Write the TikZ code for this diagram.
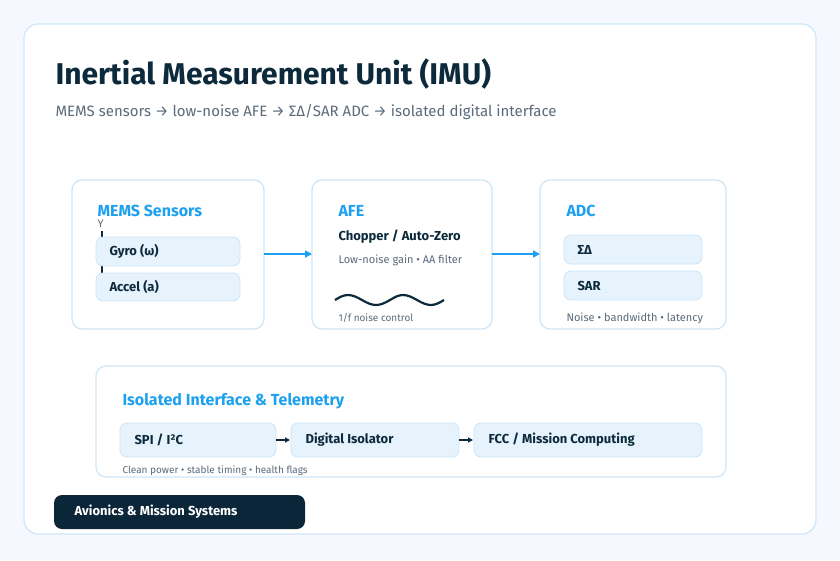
\documentclass[tikz,border=0pt]{standalone}
\usepackage{fontspec}
\setmainfont{Fira Sans}
\usetikzlibrary{arrows.meta}
\definecolor{bg}{HTML}{F5F9FF}
\definecolor{edge}{HTML}{CFE6F7}
\definecolor{navy}{HTML}{0D2A3C}
\definecolor{gray1}{HTML}{5B6B7B}
\definecolor{blue1}{HTML}{1EA0F0}
\definecolor{chip}{HTML}{E6F3FD}
\definecolor{chipe}{HTML}{CBE5F8}
\definecolor{dark}{HTML}{0C2639}
\tikzset{
 panel/.style={draw=edge,line width=1.2pt,fill=white,rounded corners=10pt},
 chipbox/.style={draw=chipe,line width=0.8pt,fill=chip,rounded corners=7pt},
 head/.style={anchor=base west,text=blue1,font=\fontsize{16}{18}\selectfont\bfseries},
 chiptxt/.style={anchor=west,text=navy,font=\fontsize{13}{15}\selectfont\bfseries},
 small/.style={anchor=base west,text=gray1,font=\fontsize{11}{13}\selectfont},
 barrow/.style={draw=blue1,line width=1.6pt,-{Triangle[length=7pt,width=7pt]}},
 darrow/.style={draw=navy,line width=1.3pt,-{Triangle[length=5pt,width=5pt]}}
}
\begin{document}
\begin{tikzpicture}[x=1pt,y=-1pt]
\fill[bg] (0,0) rectangle (840,560);
\useasboundingbox (0,0) rectangle (840,560);
\draw[panel,rounded corners=14pt] (24,24) rectangle (816,534);
\node[anchor=base west,text=navy,font=\fontsize{30}{34}\selectfont\bfseries] (title) at (52,84) {Inertial Measurement Unit (IMU)};
\node[anchor=base west,text=gray1,font=\fontsize{15}{18}\selectfont] (sub) at (52,116) {MEMS sensors → low-noise AFE → ΣΔ/SAR ADC → isolated digital interface};
% MEMS
\draw[panel] (72,180) rectangle (264,329);
\node (mems) at (168,254) {};
\node[head] at (94,216) {MEMS Sensors};
\node[anchor=base west,text=gray1,font=\fontsize{11}{13}\selectfont] at (94,227) {Y};
\draw[navy,line width=1.5pt] (102,231) -- (102,290);
\draw[navy,line width=1.5pt] (102,289) -- (110,281);
\draw[chipbox] (96,237) rectangle (240,266); \node[chiptxt] at (106,251.5) {Gyro (ω)};
\draw[chipbox] (96,273) rectangle (240,301); \node[chiptxt] at (106,287) {Accel (a)};
% AFE
\draw[panel] (312,180) rectangle (492,329);
\node[head] at (335,216) {AFE};
\node[anchor=base west,text=navy,font=\fontsize{13}{15}\selectfont\bfseries] at (335,240) {Chopper / Auto-Zero};
\node[small] at (335,263) {Low-noise gain • AA filter};
\draw[navy,line width=2.2pt] (335,300) sin (348,295) cos (362,300) sin (376,305) cos (390,300) sin (403,295) cos (417,300) sin (431,305) cos (444,300);
\node[anchor=base west,text=gray1,font=\fontsize{10}{12}\selectfont] at (335,321) {1/f noise control};
% ADC
\draw[panel] (540,180) rectangle (726,329);
\node[head] at (563,216) {ADC};
\draw[chipbox] (564,235) rectangle (702,264); \node[chiptxt] at (574,249.5) {ΣΔ};
\draw[chipbox] (564,271) rectangle (702,300); \node[chiptxt] at (574,285.5) {SAR};
\node[small] at (563,321) {Noise • bandwidth • latency};
% arrows
\coordinate (a1) at (264,254); \coordinate (a2) at (312,254);
\coordinate (a3) at (492,254); \coordinate (a4) at (540,254);
\draw[barrow] (a1) -- (a2);
\draw[barrow] (a3) -- (a4);
% bottom
\draw[panel] (96,366) rectangle (726,477);
\node[head] at (119,405) {Isolated Interface \& Telemetry};
\draw[chipbox] (120,423) rectangle (276,457); \node[chiptxt] (spi) at (131,440) {SPI / I²C};
\draw[chipbox] (291,423) rectangle (459,457); \node[chiptxt] (iso) at (302,440) {Digital Isolator};
\draw[chipbox] (474,423) rectangle (702,457); \node[chiptxt] (fcc) at (485,440) {FCC / Mission Computing};
\coordinate (b1) at (276,440); \coordinate (b2) at (290,440);
\coordinate (b3) at (459,440); \coordinate (b4) at (473,440);
\draw[darrow] (b1) -- (b2);
\draw[darrow] (b3) -- (b4);
\node[anchor=base west,text=gray1,font=\fontsize{10}{12}\selectfont] at (119,473) {Clean power • stable timing • health flags};
% footer
\fill[dark,rounded corners=8pt] (54,495) rectangle (305,529);
\node[anchor=west,text=white,font=\fontsize{13}{15}\selectfont\bfseries] (foot) at (71,512) {Avionics \& Mission Systems};
\end{tikzpicture}
\end{document}
